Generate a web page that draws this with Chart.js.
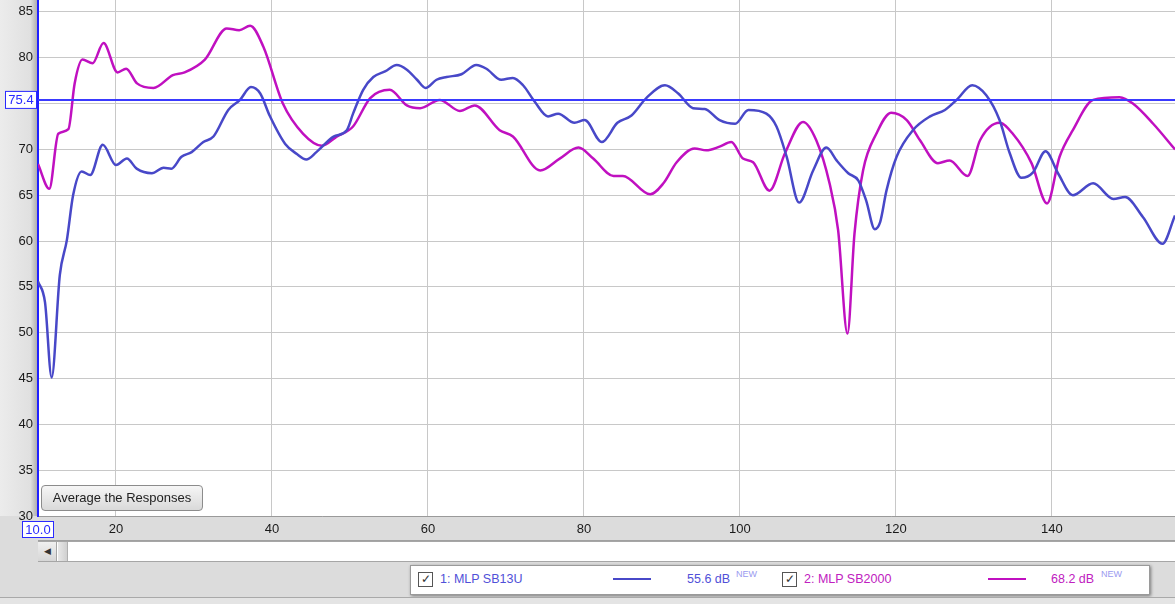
<!DOCTYPE html>
<html>
<head>
<meta charset="utf-8">
<script src="https://cdn.jsdelivr.net/npm/chart.js@4.4.1/dist/chart.umd.min.js"></script>
<style>
  html, body { margin: 0; padding: 0; }
  body { width: 1175px; height: 604px; overflow: hidden; background: #dcdcdc; font-family: "Liberation Sans", Arial, sans-serif; }
  #wrap { position: relative; width: 1175px; height: 604px; }
  #chart { position: absolute; left: 0; top: 0; }
  #avg-btn {
    position: absolute; left: 41px; top: 485px; width: 160px; height: 24px;
    border: 1px solid #8c8c8c; border-radius: 4px;
    background: linear-gradient(#f6f6f6, #d9d9d9);
    font-size: 13px; color: #222; line-height: 24px; text-align: center;
  }
  #scroll {
    position: absolute; left: 38px; top: 541px; width: 1137px; height: 19px;
    background: #fff; border-top: 1px solid #a6a6a6; border-bottom: 1px solid #a6a6a6;
  }
  #scroll .arrow {
    position: absolute; left: 0; top: 0; width: 18px; height: 19px;
    background: linear-gradient(#f0f0f0, #d6d6d6); border-right: 1px solid #a6a6a6;
    font-size: 9px; line-height: 19px; text-align: center; color: #333;
  }
  #scroll .thumb {
    position: absolute; left: 20px; top: 0; width: 9px; height: 19px;
    background: linear-gradient(90deg, #e8e8e8, #d0d0d0); border-right: 1px solid #b0b0b0;
  }
  #bottom-line { position: absolute; left: 0; top: 597px; width: 1175px; height: 1px; background: #a9a9a9; }
  #bottom-strip { position: absolute; left: 0; top: 598px; width: 1175px; height: 6px; background: #e4e4e4; }
  #legend {
    position: absolute; left: 410px; top: 565px; width: 738px; height: 28px;
    background: #fff; border: 1px solid #9a9a9a; box-shadow: 1px 1px 3px rgba(0,0,0,0.45);
    font-size: 12.5px;
  }
  #legend span, #legend div { position: absolute; }
  .chk {
    top: 6px; width: 13px; height: 13px; border: 1px solid #555; background: #fff;
    font-size: 12px; line-height: 13px; text-align: center; color: #333;
  }
  .lbl { top: 6px; white-space: nowrap; }
  .swatch { top: 12px; width: 38px; height: 2px; }
  .sup { font-size: 9px; color: #9a9af0; top: 3px; }
</style>
</head>
<body>
<div id="wrap">
  <canvas id="chart" width="1175" height="541"></canvas>
  <div id="avg-btn">Average the Responses</div>
  <div id="scroll"><div class="arrow">&#9664;</div><div class="thumb"></div></div>
  <div id="legend">
    <div class="chk" style="left:7px">&#10003;</div>
    <span class="lbl" style="left:29px;color:#5050d8">1: MLP SB13U</span>
    <div class="swatch" style="left:202px;background:#4848c8"></div>
    <span class="lbl" style="left:276px;color:#5050d8">55.6 dB</span>
    <span class="sup" style="left:325px">NEW</span>
    <div class="chk" style="left:371px">&#10003;</div>
    <span class="lbl" style="left:393px;color:#c020c0">2: MLP SB2000</span>
    <div class="swatch" style="left:577px;background:#c010c0"></div>
    <span class="lbl" style="left:640px;color:#c020c0">68.2 dB</span>
    <span class="sup" style="left:690px">NEW</span>
  </div>
  <div id="bottom-line"></div>
  <div id="bottom-strip"></div>
</div>
<script>
  // Valeurs (Hz, dB)
  const freqSB13U = [10.0, 10.9, 11.75, 12.8, 13.7, 14.5, 15.6, 16.7, 18.3, 20.0, 21.4, 22.65, 24.6, 26.1, 27.1, 28.4, 29.7, 31.2, 32.5, 34.4, 35.9, 37.3, 38.5, 39.7, 41.7, 43.2, 44.4, 45.7, 47.9, 49.6, 50.4, 51.7, 53.0, 54.5, 56.0, 57.3, 58.6, 59.7, 61.1, 62.4, 64.3, 66.2, 67.5, 69.4, 70.9, 72.2, 73.7, 75.4, 76.7, 78.8, 80.1, 82.3, 84.3, 86.1, 88.0, 90.4, 92.1, 94.0, 95.5, 97.4, 99.4, 101.1, 103.4, 104.7, 106.0, 107.6, 109.4, 111.1, 112.4, 113.9, 115.2, 116.2, 117.3, 118.0, 118.8, 120.1, 122.2, 124.4, 126.3, 127.8, 129.8, 131.6, 133.3, 134.6, 136.1, 137.6, 139.2, 140.8, 142.7, 145.3, 147.9, 149.4, 151.7, 154.2, 155.8];
  const splSB13U = [55.6, 53.3, 45.1, 56.3, 60.1, 65.0, 67.6, 67.2, 70.5, 68.3, 69.0, 67.9, 67.4, 68.0, 67.9, 69.2, 69.7, 70.8, 71.4, 74.3, 75.4, 76.8, 76.1, 73.7, 70.6, 69.5, 68.9, 69.7, 71.4, 72.1, 73.9, 76.5, 77.9, 78.5, 79.2, 78.7, 77.6, 76.7, 77.6, 77.9, 78.2, 79.2, 78.8, 77.6, 77.8, 77.0, 75.2, 73.6, 73.9, 72.9, 73.2, 70.8, 72.9, 73.7, 75.6, 77.0, 76.1, 74.5, 74.4, 73.2, 72.8, 74.3, 73.9, 72.5, 69.2, 64.2, 67.7, 70.2, 68.8, 67.4, 66.6, 64.4, 61.3, 62.1, 65.5, 69.2, 72.1, 73.6, 74.3, 75.4, 77.0, 75.9, 73.2, 69.6, 66.9, 67.5, 69.8, 67.4, 65.0, 66.3, 64.6, 64.8, 62.6, 59.7, 62.8];

  const freqSB2000 = [10.0, 11.45, 12.6, 13.9, 14.7, 15.7, 17.0, 18.4, 20.2, 21.3, 22.7, 24.8, 27.3, 28.8, 31.4, 34.2, 35.8, 37.2, 38.9, 41.4, 44.0, 46.4, 48.3, 50.4, 52.6, 55.1, 57.3, 59.0, 61.5, 64.1, 66.0, 69.2, 70.9, 74.4, 76.9, 79.3, 81.2, 83.8, 85.0, 88.5, 90.2, 91.9, 94.2, 95.7, 97.4, 98.9, 100.4, 101.7, 103.8, 105.8, 108.1, 109.8, 111.5, 112.6, 113.8, 114.7, 115.8, 117.5, 119.4, 121.4, 123.1, 125.4, 126.9, 129.2, 130.8, 133.3, 135.0, 137.4, 139.4, 141.0, 142.7, 145.3, 148.7, 150.4, 153.0, 155.8];
  const splSB2000 = [68.4, 65.7, 71.7, 72.2, 77.2, 79.8, 79.4, 81.6, 78.4, 78.8, 77.2, 76.7, 78.1, 78.4, 79.8, 83.2, 83.0, 83.5, 81.2, 75.0, 71.7, 70.4, 71.4, 72.5, 75.6, 76.5, 74.8, 74.5, 75.4, 74.2, 74.8, 72.1, 71.4, 67.7, 69.0, 70.2, 69.0, 67.1, 67.1, 65.1, 66.3, 68.6, 70.1, 69.9, 70.3, 70.8, 69.0, 68.6, 65.5, 69.6, 73.0, 71.0, 66.3, 61.2, 49.9, 60.8, 67.7, 71.7, 74.0, 73.2, 71.0, 68.5, 68.8, 67.1, 71.0, 72.9, 71.7, 68.5, 64.1, 69.2, 72.1, 75.4, 75.7, 75.0, 72.8, 70.0];

  const xTicks = [20, 40, 60, 80, 100, 120, 140];
  const yTicks = [30, 35, 40, 45, 50, 55, 60, 65, 70, 75, 80, 85];
  const xRange = [10.0, 155.8];
  const yRange = [30, 86.3];

  // curseur affiché dans REW
  const cursorFreq = 10.0;
  const cursorLevel = 75.4;

  const toPoints = (xs, ys) => xs.map((x, i) => ({ x: x, y: ys[i] }));

  // fond gris autour, zone de tracé blanche
  const backgroundPlugin = {
    id: "rewBackground",
    beforeDraw(chart) {
      const { ctx, chartArea, width, height } = chart;
      ctx.save();
      ctx.fillStyle = "#dcdcdc";
      ctx.fillRect(0, 0, width, height);
      const g = ctx.createLinearGradient(0, 0, chartArea.left, 0);
      g.addColorStop(0, "#ececec");
      g.addColorStop(0.8, "#e0e0e0");
      g.addColorStop(0.9, "#c4c4c4");
      g.addColorStop(1, "#a8a8a8");
      ctx.fillStyle = g;
      ctx.fillRect(0, 0, chartArea.left, chartArea.bottom);
      ctx.fillStyle = "#ffffff";
      ctx.fillRect(chartArea.left, chartArea.top, chartArea.right - chartArea.left, chartArea.bottom - chartArea.top);
      ctx.fillStyle = "#a0a0a0";
      ctx.fillRect(chartArea.left, height - 1, width - chartArea.left, 1);
      ctx.restore();
    },
  };

  // étiquettes encadrées du curseur (75.4 et 10.0)
  const cursorLabelsPlugin = {
    id: "cursorLabels",
    afterDraw(chart) {
      const { ctx, scales } = chart;
      const yPix = scales.y.getPixelForValue(cursorLevel);
      const xPix = scales.x.getPixelForValue(cursorFreq);
      ctx.save();
      ctx.font = "13px 'Liberation Sans', Arial, sans-serif";
      ctx.textAlign = "center";
      ctx.textBaseline = "middle";
      ctx.lineWidth = 1;
      ctx.strokeStyle = "#2a2aff";

      ctx.fillStyle = "#ffffff";
      ctx.fillRect(5.5, yPix - 8.5, 31, 17);
      ctx.strokeRect(5.5, yPix - 8.5, 31, 17);
      ctx.fillStyle = "#2a2aff";
      ctx.fillText(cursorLevel.toFixed(1), 21, yPix + 0.5);

      ctx.fillStyle = "#ffffff";
      ctx.fillRect(xPix - 15.5, 521.5, 31, 16);
      ctx.strokeRect(xPix - 15.5, 521.5, 31, 16);
      ctx.fillStyle = "#2a2aff";
      ctx.fillText(cursorFreq.toFixed(1), xPix, 530);
      ctx.restore();
    },
  };

  const ctx = document.getElementById("chart").getContext("2d");
  new Chart(ctx, {
    type: "line",
    data: {
      datasets: [
        {
          label: "cursor",
          data: [{ x: xRange[0], y: cursorLevel }, { x: xRange[1], y: cursorLevel }],
          borderColor: "#3a3aff",
          borderWidth: 2,
          pointRadius: 0,
          tension: 0,
        },
        {
          label: "1: MLP SB13U",
          data: toPoints(freqSB13U, splSB13U),
          borderColor: "#4848c8",
          borderWidth: 2.5,
          pointRadius: 0,
          cubicInterpolationMode: "monotone",
        },
        {
          label: "2: MLP SB2000",
          data: toPoints(freqSB2000, splSB2000),
          borderColor: "#c010c0",
          borderWidth: 2.5,
          pointRadius: 0,
          cubicInterpolationMode: "monotone",
        },
      ],
    },
    options: {
      responsive: false,
      animation: false,
      devicePixelRatio: 1,
      layout: { padding: 0 },
      plugins: {
        legend: { display: false },
        tooltip: { enabled: false },
      },
      scales: {
        x: {
          type: "linear",
          min: xRange[0],
          max: xRange[1],
          afterBuildTicks: (scale) => {
            scale.ticks = xTicks.map((v) => ({ value: v }));
          },
          afterFit: (scale) => {
            scale.height = 25;
            scale.paddingLeft = 0;
            scale.paddingRight = 0;
          },
          grid: { color: "#c8c8c8", lineWidth: 1, drawTicks: false },
          border: { color: "#9a9a9a", width: 1 },
          ticks: {
            padding: 6,
            maxRotation: 0,
            autoSkip: false,
            color: "#1a1a1a",
            font: { family: "'Liberation Sans', Arial, sans-serif", size: 13 },
          },
        },
        y: {
          type: "linear",
          min: yRange[0],
          max: yRange[1],
          afterBuildTicks: (scale) => {
            scale.ticks = yTicks.map((v) => ({ value: v }));
          },
          afterFit: (scale) => {
            scale.width = 38;
            scale.paddingTop = 0;
            scale.paddingBottom = 0;
          },
          grid: { color: "#c8c8c8", lineWidth: 1, drawTicks: false },
          border: { color: "#2020ff", width: 2 },
          ticks: {
            padding: 5,
            autoSkip: false,
            color: "#1a1a1a",
            font: { family: "'Liberation Sans', Arial, sans-serif", size: 13 },
          },
        },
      },
    },
    plugins: [backgroundPlugin, cursorLabelsPlugin],
  });
</script>
</body>
</html>
